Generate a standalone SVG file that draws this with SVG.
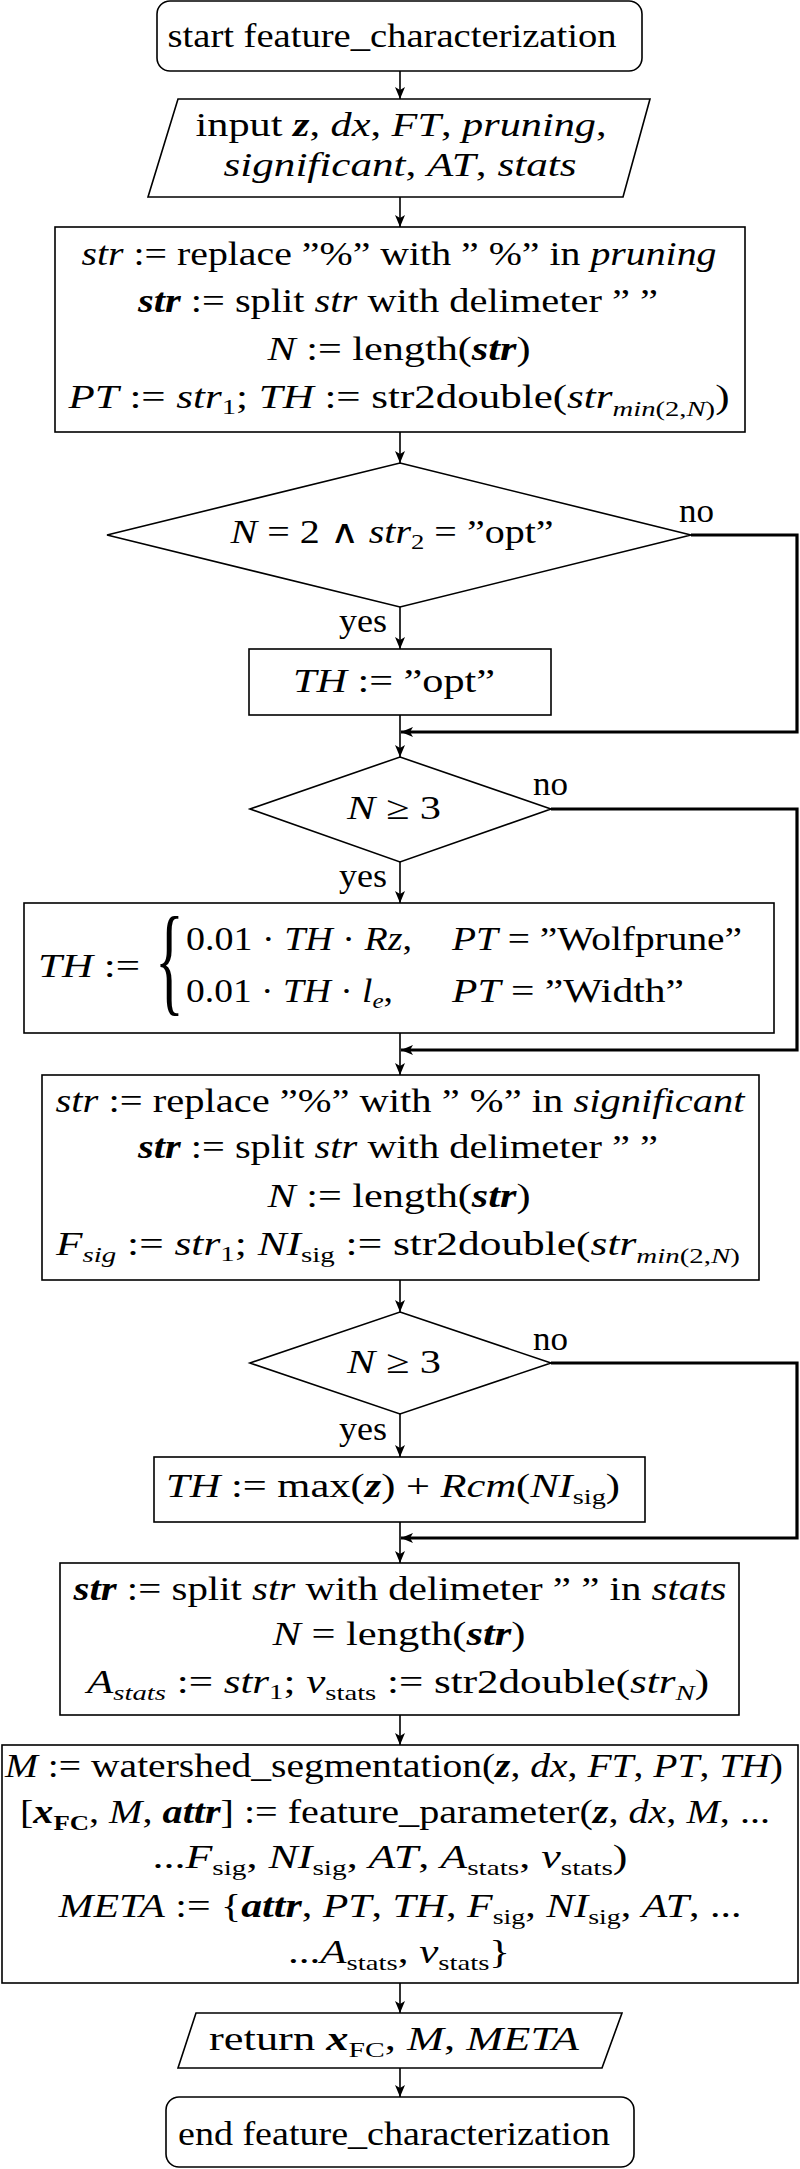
<svg xmlns="http://www.w3.org/2000/svg" width="800" height="2169" viewBox="0 0 800 2169">
<style>
.n{fill:#fff;stroke:#000;stroke-width:1.6}
.t{font-family:"Liberation Serif",serif;font-size:33px;fill:#000}
.m{text-anchor:middle}
.i{font-style:italic}
.b{font-weight:bold;font-style:italic}
.bu{font-weight:bold}
.s{font-size:22px}
.e{stroke:#000;stroke-width:1.6;fill:none}
.fb{stroke-width:3.2}
</style>
<defs>
<marker id="ah" viewBox="0 0 12 10" refX="12" refY="5" markerWidth="12" markerHeight="10" markerUnits="userSpaceOnUse" orient="auto"><path d="M0,0 L12,5 L0,10 L3,5 z" fill="#000"/></marker>
</defs>
<rect width="800" height="2169" fill="#fff"/>

<g id="connectors">
<path class="e" d="M400,71 V99" marker-end="url(#ah)"/>
<path class="e" d="M400,197 V227" marker-end="url(#ah)"/>
<path class="e" d="M400,432 V463" marker-end="url(#ah)"/>
<path class="e" d="M400,607 V649" marker-end="url(#ah)"/>
<path class="e" d="M400,715 V757" marker-end="url(#ah)"/>
<path class="e fb" d="M691,535 H797 V732 H401" marker-end="url(#ah)"/>
<path class="e" d="M400,862 V903" marker-end="url(#ah)"/>
<path class="e" d="M400,1033 V1075" marker-end="url(#ah)"/>
<path class="e fb" d="M551,809 H797 V1050 H401" marker-end="url(#ah)"/>
<path class="e" d="M400,1280 V1312" marker-end="url(#ah)"/>
<path class="e" d="M400,1414 V1457" marker-end="url(#ah)"/>
<path class="e" d="M400,1522 V1563" marker-end="url(#ah)"/>
<path class="e fb" d="M551,1363 H797 V1538 H401" marker-end="url(#ah)"/>
<path class="e" d="M400,1715 V1745" marker-end="url(#ah)"/>
<path class="e" d="M400,1983 V2013" marker-end="url(#ah)"/>
<path class="e" d="M400,2068 V2097" marker-end="url(#ah)"/>
<text class="t" x="679" y="522" textLength="35" lengthAdjust="spacingAndGlyphs">no</text>
<text class="t" x="533" y="795" textLength="35" lengthAdjust="spacingAndGlyphs">no</text>
<text class="t" x="533" y="1350" textLength="35" lengthAdjust="spacingAndGlyphs">no</text>
<text class="t" x="339" y="632" textLength="48" lengthAdjust="spacingAndGlyphs">yes</text>
<text class="t" x="339" y="887" textLength="48" lengthAdjust="spacingAndGlyphs">yes</text>
<text class="t" x="339" y="1440" textLength="48" lengthAdjust="spacingAndGlyphs">yes</text>
</g>

<g id="start">
<rect class="n" x="157" y="1" width="485" height="70" rx="13"/>
<text class="t m" x="392" y="47" textLength="449" lengthAdjust="spacingAndGlyphs">start feature_characterization</text>
</g>

<g id="input">
<polygon class="n" points="178,99 650,99 623,197 148,197"/>
<text class="t m" x="401" y="136" textLength="411" lengthAdjust="spacingAndGlyphs">input <tspan class="b">z</tspan>, <tspan class="i">dx</tspan>, <tspan class="i">FT</tspan>, <tspan class="i">pruning</tspan>,</text>
<text class="t m" x="400" y="176" textLength="353" lengthAdjust="spacingAndGlyphs"><tspan class="i">significant</tspan>, <tspan class="i">AT</tspan>, <tspan class="i">stats</tspan></text>
</g>

<g id="parse_pruning">
<rect class="n" x="55" y="227" width="690" height="205"/>
<text class="t m" x="399" y="265" textLength="635" lengthAdjust="spacingAndGlyphs"><tspan class="i">str</tspan> := replace ”%” with ” %” in <tspan class="i">pruning</tspan></text>
<text class="t m" x="398" y="312" textLength="520" lengthAdjust="spacingAndGlyphs"><tspan class="b">str</tspan> := split <tspan class="i">str</tspan> with delimeter ” ”</text>
<text class="t m" x="399" y="360" textLength="263" lengthAdjust="spacingAndGlyphs"><tspan class="i">N</tspan> := length(<tspan class="b">str</tspan>)</text>
<text class="t m" x="399" y="408" textLength="661" lengthAdjust="spacingAndGlyphs"><tspan class="i">PT</tspan> := <tspan class="i">str</tspan><tspan class="s" dy="6">1</tspan><tspan dy="-6">; </tspan><tspan class="i">TH</tspan> := str2double(<tspan class="i">str</tspan><tspan class="s i" dy="8">min</tspan><tspan class="s">(2,</tspan><tspan class="s i">N</tspan><tspan class="s">)</tspan><tspan dy="-8">)</tspan></text>
</g>

<g id="dec_opt">
<polygon class="n" points="400,463 691,535 400,607 107,535"/>
<text class="t m" x="392" y="543" textLength="323" lengthAdjust="spacingAndGlyphs"><tspan class="i">N</tspan> = 2 ∧ <tspan class="i">str</tspan><tspan class="s" dy="6">2</tspan><tspan dy="-6"> = ”opt”</tspan></text>
</g>

<g id="th_opt">
<rect class="n" x="249" y="649" width="302" height="66"/>
<text class="t m" x="394" y="692" textLength="202" lengthAdjust="spacingAndGlyphs"><tspan class="i">TH</tspan> := ”opt”</text>
</g>

<g id="dec_n3a">
<polygon class="n" points="400,757 551,809 400,862 250,809"/>
<text class="t m" x="394" y="819" textLength="94" lengthAdjust="spacingAndGlyphs"><tspan class="i">N</tspan> ≥ 3</text>
</g>

<g id="th_cases">
<rect class="n" x="24" y="903" width="750" height="130"/>
<text class="t" x="38" y="977" textLength="102" lengthAdjust="spacingAndGlyphs"><tspan class="i">TH</tspan> :=</text>
<text class="t" transform="translate(155,1000) scale(0.5,1)" style="font-size:120px">{</text>
<text class="t" x="186" y="950" textLength="226" lengthAdjust="spacingAndGlyphs">0.01 · <tspan class="i">TH</tspan> · <tspan class="i">Rz</tspan>,</text>
<text class="t" x="452" y="950" textLength="290" lengthAdjust="spacingAndGlyphs"><tspan class="i">PT</tspan> = ”Wolfprune”</text>
<text class="t" x="186" y="1002" textLength="207" lengthAdjust="spacingAndGlyphs">0.01 · <tspan class="i">TH</tspan> · <tspan class="i">l</tspan><tspan class="s i" dy="6">e</tspan><tspan dy="-6">,</tspan></text>
<text class="t" x="452" y="1002" textLength="232" lengthAdjust="spacingAndGlyphs"><tspan class="i">PT</tspan> = ”Width”</text>
</g>

<g id="parse_significant">
<rect class="n" x="42" y="1075" width="717" height="205"/>
<text class="t m" x="400" y="1112" textLength="689" lengthAdjust="spacingAndGlyphs"><tspan class="i">str</tspan> := replace ”%” with ” %” in <tspan class="i">significant</tspan></text>
<text class="t m" x="398" y="1158" textLength="520" lengthAdjust="spacingAndGlyphs"><tspan class="b">str</tspan> := split <tspan class="i">str</tspan> with delimeter ” ”</text>
<text class="t m" x="399" y="1207" textLength="263" lengthAdjust="spacingAndGlyphs"><tspan class="i">N</tspan> := length(<tspan class="b">str</tspan>)</text>
<text class="t m" x="398" y="1255" textLength="684" lengthAdjust="spacingAndGlyphs"><tspan class="i">F</tspan><tspan class="s i" dy="7">sig</tspan><tspan dy="-7"> := </tspan><tspan class="i">str</tspan><tspan class="s" dy="6">1</tspan><tspan dy="-6">; </tspan><tspan class="i">NI</tspan><tspan class="s" dy="7">sig</tspan><tspan dy="-7"> := str2double(</tspan><tspan class="i">str</tspan><tspan class="s i" dy="8">min</tspan><tspan class="s">(2,</tspan><tspan class="s i">N</tspan><tspan class="s">)</tspan></text>
</g>

<g id="dec_n3b">
<polygon class="n" points="400,1312 551,1363 400,1414 250,1363"/>
<text class="t m" x="394" y="1373" textLength="94" lengthAdjust="spacingAndGlyphs"><tspan class="i">N</tspan> ≥ 3</text>
</g>

<g id="th_max">
<rect class="n" x="154" y="1457" width="491" height="65"/>
<text class="t m" x="393" y="1497" textLength="454" lengthAdjust="spacingAndGlyphs"><tspan class="i">TH</tspan> := max(<tspan class="b">z</tspan>) + <tspan class="i">Rcm</tspan>(<tspan class="i">NI</tspan><tspan class="s" dy="7">sig</tspan><tspan dy="-7">)</tspan></text>
</g>

<g id="parse_stats">
<rect class="n" x="60" y="1563" width="679" height="152"/>
<text class="t m" x="400" y="1600" textLength="653" lengthAdjust="spacingAndGlyphs"><tspan class="b">str</tspan> := split <tspan class="i">str</tspan> with delimeter ” ” in <tspan class="i">stats</tspan></text>
<text class="t m" x="399" y="1645" textLength="253" lengthAdjust="spacingAndGlyphs"><tspan class="i">N</tspan> = length(<tspan class="b">str</tspan>)</text>
<text class="t m" x="398" y="1693" textLength="622" lengthAdjust="spacingAndGlyphs"><tspan class="i">A</tspan><tspan class="s i" dy="7">stats</tspan><tspan dy="-7"> := </tspan><tspan class="i">str</tspan><tspan class="s" dy="6">1</tspan><tspan dy="-6">; </tspan><tspan class="i">v</tspan><tspan class="s" dy="7">stats</tspan><tspan dy="-7"> := str2double(</tspan><tspan class="i">str</tspan><tspan class="s i" dy="7">N</tspan><tspan dy="-7">)</tspan></text>
</g>

<g id="segmentation">
<rect class="n" x="2" y="1745" width="796" height="238"/>
<text class="t m" x="394" y="1777" textLength="778" lengthAdjust="spacingAndGlyphs"><tspan class="i">M</tspan> := watershed_segmentation(<tspan class="b">z</tspan>, <tspan class="i">dx</tspan>, <tspan class="i">FT</tspan>, <tspan class="i">PT</tspan>, <tspan class="i">TH</tspan>)</text>
<text class="t m" x="395" y="1823" textLength="750" lengthAdjust="spacingAndGlyphs">[<tspan class="b">x</tspan><tspan class="s bu" dy="7">FC</tspan><tspan dy="-7">, </tspan><tspan class="i">M</tspan>, <tspan class="b">attr</tspan>] := feature_parameter(<tspan class="b">z</tspan>, <tspan class="i">dx</tspan>, <tspan class="i">M</tspan>, ...</text>
<text class="t m" x="390" y="1868" textLength="475" lengthAdjust="spacingAndGlyphs">...<tspan class="i">F</tspan><tspan class="s" dy="7">sig</tspan><tspan dy="-7">, </tspan><tspan class="i">NI</tspan><tspan class="s" dy="7">sig</tspan><tspan dy="-7">, </tspan><tspan class="i">AT</tspan>, <tspan class="i">A</tspan><tspan class="s" dy="7">stats</tspan><tspan dy="-7">, </tspan><tspan class="i">v</tspan><tspan class="s" dy="7">stats</tspan><tspan dy="-7">)</tspan></text>
<text class="t m" x="400" y="1917" textLength="683" lengthAdjust="spacingAndGlyphs"><tspan class="i">META</tspan> := {<tspan class="b">attr</tspan>, <tspan class="i">PT</tspan>, <tspan class="i">TH</tspan>, <tspan class="i">F</tspan><tspan class="s" dy="7">sig</tspan><tspan dy="-7">, </tspan><tspan class="i">NI</tspan><tspan class="s" dy="7">sig</tspan><tspan dy="-7">, </tspan><tspan class="i">AT</tspan>, ...</text>
<text class="t m" x="399" y="1963" textLength="222" lengthAdjust="spacingAndGlyphs">...<tspan class="i">A</tspan><tspan class="s" dy="7">stats</tspan><tspan dy="-7">, </tspan><tspan class="i">v</tspan><tspan class="s" dy="7">stats</tspan><tspan dy="-7">}</tspan></text>
</g>

<g id="return">
<polygon class="n" points="196,2013 622,2013 602,2068 178,2068"/>
<text class="t m" x="394" y="2050" textLength="370" lengthAdjust="spacingAndGlyphs">return <tspan class="b">x</tspan><tspan class="s" dy="7">FC</tspan><tspan dy="-7">, </tspan><tspan class="i">M</tspan>, <tspan class="i">META</tspan></text>
</g>

<g id="end">
<rect class="n" x="166" y="2097" width="468" height="70" rx="13"/>
<text class="t m" x="394" y="2145" textLength="432" lengthAdjust="spacingAndGlyphs">end feature_characterization</text>
</g>
</svg>
